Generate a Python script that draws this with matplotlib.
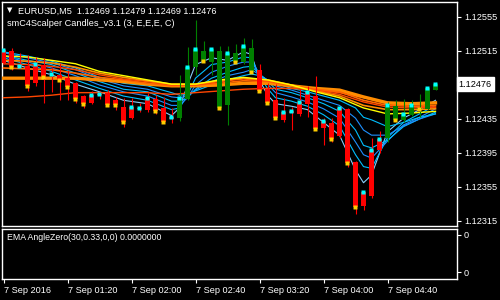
import matplotlib
matplotlib.use("Agg")
import matplotlib.pyplot as plt
import numpy as np

plt.rcParams["font.family"] = ["Liberation Sans", "DejaVu Sans"]

# EURUSD M5 candles (custom scalper candles as shown on the chart)
opens = [1.12516, 1.12515, 1.12497, 1.12497, 1.12500, 1.12499, 1.12488, 1.12487, 1.12483, 1.12477,
         1.12462, 1.12463, 1.12464, 1.12466, 1.12457, 1.12449, 1.12449, 1.12448, 1.12460, 1.12458,
         1.12448, 1.12437, 1.12436, 1.12458, 1.12496, 1.12503, 1.12502, 1.12448, 1.12451, 1.12502,
         1.12502, 1.12490, 1.12493, 1.12470, 1.12457, 1.12443, 1.12444, 1.12455, 1.12467, 1.12462,
         1.12433, 1.12430, 1.12448, 1.12447, 1.12384, 1.12349, 1.12399, 1.12411, 1.12413, 1.12434,
         1.12434, 1.12440, 1.12447, 1.12447, 1.12469]
highs = [1.12519, 1.12519, 1.12513, 1.12510, 1.12508, 1.12507, 1.12496, 1.12501, 1.12493, 1.12479,
         1.12463, 1.12468, 1.12468, 1.12469, 1.12461, 1.12460, 1.12460, 1.12454, 1.12466, 1.12463,
         1.12461, 1.12448, 1.12487, 1.12520, 1.12551, 1.12527, 1.12519, 1.12521, 1.12521, 1.12523,
         1.12530, 1.12529, 1.12500, 1.12477, 1.12476, 1.12460, 1.12449, 1.12470, 1.12474, 1.12486,
         1.12436, 1.12436, 1.12449, 1.12448, 1.12386, 1.12350, 1.12413, 1.12421, 1.12455, 1.12457,
         1.12458, 1.12457, 1.12464, 1.12471, 1.12479]
lows = [1.12500, 1.12493, 1.12495, 1.12468, 1.12474, 1.12454, 1.12467, 1.12457, 1.12457, 1.12454,
        1.12448, 1.12453, 1.12458, 1.12450, 1.12446, 1.12426, 1.12435, 1.12443, 1.12443, 1.12441,
        1.12430, 1.12430, 1.12433, 1.12457, 1.12487, 1.12502, 1.12487, 1.12446, 1.12428, 1.12501,
        1.12500, 1.12489, 1.12467, 1.12453, 1.12435, 1.12431, 1.12422, 1.12439, 1.12437, 1.12422,
        1.12404, 1.12408, 1.12413, 1.12379, 1.12323, 1.12328, 1.12342, 1.12395, 1.12408, 1.12433,
        1.12431, 1.12439, 1.12437, 1.12446, 1.12469]
closes = [1.12501, 1.12496, 1.12496, 1.12474, 1.12477, 1.12484, 1.12487, 1.12481, 1.12473, 1.12458,
          1.12453, 1.12454, 1.12463, 1.12451, 1.12451, 1.12431, 1.12436, 1.12447, 1.12446, 1.12444,
          1.12431, 1.12435, 1.12460, 1.12496, 1.12517, 1.12515, 1.12517, 1.12515, 1.12513, 1.12513,
          1.12521, 1.12519, 1.12468, 1.12454, 1.12436, 1.12434, 1.12442, 1.12441, 1.12453, 1.12423,
          1.12424, 1.12411, 1.12415, 1.12383, 1.12331, 1.12333, 1.12344, 1.12399, 1.12451, 1.12450,
          1.12441, 1.12451, 1.12448, 1.12471, 1.12476]
# small square on each candle: c = cyan at body top, y = yellow at body bottom
marks = list("cycycycyyyyccyyycccyyccccycycycyyyyccccycycyycccc" "ycc" "ycc")

# fast EMA ribbon (blue), sampled at these bars
fast_idx = [0, 3, 6, 9, 12, 15, 18, 21, 22, 23, 24, 26, 28, 30, 31, 32, 33, 34, 36, 38,
            40, 42, 44, 45, 46, 48, 50, 52, 54]
fast1 = [1.12504, 1.12495, 1.12487, 1.12476, 1.12467, 1.12457, 1.12453, 1.12439, 1.12448, 1.12475,
         1.12499, 1.12507, 1.12504, 1.12514, 1.12511, 1.12481, 1.12463, 1.12453, 1.12450, 1.12446,
         1.12431, 1.12416, 1.12375, 1.12360, 1.12369, 1.12420, 1.12436, 1.12446, 1.12457]
fast2 = [1.12507, 1.12499, 1.12491, 1.12481, 1.12471, 1.12462, 1.12457, 1.12446, 1.12448, 1.12463,
         1.12483, 1.12499, 1.12502, 1.12508, 1.12507, 1.12486, 1.12471, 1.12460, 1.12456, 1.12450,
         1.12440, 1.12427, 1.12393, 1.12379, 1.12377, 1.12413, 1.12431, 1.12441, 1.12451]
fast3 = [1.12509, 1.12502, 1.12495, 1.12486, 1.12475, 1.12467, 1.12462, 1.12451, 1.12451, 1.12460,
         1.12475, 1.12490, 1.12497, 1.12502, 1.12502, 1.12488, 1.12476, 1.12466, 1.12461, 1.12455,
         1.12447, 1.12436, 1.12408, 1.12393, 1.12389, 1.12409, 1.12428, 1.12437, 1.12447]
fast4 = [1.12510, 1.12504, 1.12499, 1.12489, 1.12479, 1.12470, 1.12467, 1.12456, 1.12456, 1.12460,
         1.12470, 1.12483, 1.12490, 1.12496, 1.12497, 1.12488, 1.12480, 1.12470, 1.12466, 1.12460,
         1.12453, 1.12444, 1.12422, 1.12404, 1.12401, 1.12410, 1.12426, 1.12435, 1.12443]
fast5 = [1.12513, 1.12507, 1.12501, 1.12493, 1.12482, 1.12474, 1.12470, 1.12461, 1.12460, 1.12462,
         1.12469, 1.12479, 1.12486, 1.12490, 1.12493, 1.12487, 1.12481, 1.12474, 1.12469, 1.12463,
         1.12457, 1.12451, 1.12436, 1.12422, 1.12416, 1.12416, 1.12427, 1.12435, 1.12441]
fast6 = [1.12514, 1.12509, 1.12503, 1.12495, 1.12484, 1.12477, 1.12474, 1.12466, 1.12463, 1.12464,
         1.12468, 1.12475, 1.12481, 1.12486, 1.12488, 1.12486, 1.12481, 1.12477, 1.12471, 1.12467,
         1.12462, 1.12457, 1.12448, 1.12437, 1.12434, 1.12426, 1.12431, 1.12437, 1.12441]

# slow ribbon (yellow/orange) and long MA
slow_idx = [0, 3, 6, 9, 12, 15, 18, 21, 24, 27, 30, 33, 36, 39, 42, 45, 48, 51, 54]
slow1 = [1.12509, 1.12508, 1.12504, 1.12500, 1.12491, 1.12486, 1.12481, 1.12476, 1.12476, 1.12481,
         1.12484, 1.12481, 1.12475, 1.12467, 1.12460, 1.12448, 1.12441, 1.12442, 1.12444]
slow2 = [1.12504, 1.12503, 1.12501, 1.12496, 1.12489, 1.12484, 1.12480, 1.12476, 1.12476, 1.12480,
         1.12483, 1.12481, 1.12475, 1.12468, 1.12462, 1.12451, 1.12446, 1.12446, 1.12447]
slow3 = [1.12500, 1.12499, 1.12497, 1.12493, 1.12487, 1.12482, 1.12479, 1.12475, 1.12475, 1.12479,
         1.12482, 1.12480, 1.12475, 1.12469, 1.12464, 1.12455, 1.12449, 1.12448, 1.12449]
slow4 = [1.12495, 1.12494, 1.12493, 1.12489, 1.12484, 1.12481, 1.12477, 1.12474, 1.12475, 1.12477,
         1.12480, 1.12479, 1.12474, 1.12470, 1.12467, 1.12457, 1.12451, 1.12450, 1.12451]
slow5 = [1.12483, 1.12483, 1.12483, 1.12483, 1.12481, 1.12479, 1.12476, 1.12474, 1.12474, 1.12475,
         1.12477, 1.12477, 1.12474, 1.12471, 1.12469, 1.12461, 1.12454, 1.12453, 1.12454]
long_ma = [1.12460, 1.12461, 1.12463, 1.12466, 1.12466, 1.12466, 1.12466, 1.12464, 1.12466, 1.12468,
           1.12470, 1.12471, 1.12471, 1.12469, 1.12466, 1.12460, 1.12453, 1.12450, 1.12449]

price_ticks = [1.12555, 1.12515, 1.12435, 1.12395, 1.12355, 1.12315]
time_idx = [0, 8, 16, 24, 32, 40, 48]
time_labels = ["7 Sep 2016", "7 Sep 01:20", "7 Sep 02:00", "7 Sep 02:40",
               "7 Sep 03:20", "7 Sep 04:00", "7 Sep 04:40"]
header = "EURUSD,M5  1.12469 1.12479 1.12469 1.12476"
ind_name = "smC4Scalper Candles_v3.1 (3, E,E,E, C)"
sub_name = "EMA AngleZero(30,0.33,0,0) 0.0000000"

W, H = 500, 300
FS = 6.6

fig = plt.figure(figsize=(W / 100, H / 100), dpi=100, facecolor="black")
ax = fig.add_axes([2 / W, 1 - 226 / H, 455 / W, 224 / H], facecolor="black")
ax2 = fig.add_axes([2 / W, 1 - 279 / H, 455 / W, 50 / H], facecolor="black")

o = np.array(opens); c = np.array(closes)
x = np.arange(len(o))
up = c >= o
col = np.where(up, "#008000", "#FF0000")
lo = np.minimum(o, c)
hgt = np.maximum(np.abs(c - o), 0.000012)

# ribbons
fast_cols = ["#87CEFA", "#00BFFF", "#1E90FF", "#00BFFF", "#1E90FF", "#00BFFF"]
for vals, cc in zip([fast1, fast2, fast3, fast4, fast5, fast6], fast_cols):
    ax.plot(fast_idx, vals, color=cc, lw=0.8, zorder=2)
ax.plot(slow_idx, long_ma, color="#FF4500", lw=1.0, zorder=3)
ax.plot(slow_idx, slow5, color="#FF8C00", lw=2.4, zorder=3)
ax.plot(slow_idx, slow4, color="#FF6600", lw=1.2, zorder=3)
ax.plot(slow_idx, slow3, color="#FF4500", lw=1.0, zorder=3)
ax.plot(slow_idx, slow2, color="#FF8C00", lw=1.2, zorder=3)
ax.plot(slow_idx, slow1, color="#FFFF00", lw=1.0, zorder=3)

# candles
ax.vlines(x, lows, highs, colors=col, lw=0.8, zorder=4)
ax.bar(x, hgt, bottom=lo, width=0.62, color=col, linewidth=0, zorder=5)
mk = np.array(marks[:len(o)])
top = np.maximum(o, c)
cy = mk == "c"
ax.plot(x[cy] - 0.12, top[cy], "s", ms=2.3, mfc="#00FFFF", mec="none", zorder=6)
ax.plot(x[~cy] - 0.12, lo[~cy], "s", ms=2.3, mfc="#FFCC00", mec="none", zorder=6)

ax.set_xlim(-0.1875, 56.6875)
ax.set_ylim(1.12575 - 226 * 1.1765e-5, 1.12575 - 2 * 1.1765e-5)
ax.yaxis.tick_right()
ax.set_yticks(price_ticks)
ax.set_yticklabels([f"{t:.5f}" for t in price_ticks])
ax.tick_params(axis="y", colors="white", length=3, width=0.8, labelsize=FS, pad=2)
ax.tick_params(axis="x", bottom=False, labelbottom=False)
for s in ax.spines.values():
    s.set_color("white"); s.set_linewidth(1)

# current price box
ax.text(1.004, closes[-1], f"{closes[-1]:.5f}", transform=ax.get_yaxis_transform(),
        va="center", ha="left", fontsize=FS, color="black",
        bbox=dict(boxstyle="square,pad=0.25", fc="white", ec="white"), clip_on=False)

# sub window
ax2.set_xlim(-0.1875, 56.6875)
ax2.set_ylim(0, 1)
ax2.yaxis.tick_right()
ax2.set_yticks([0.14, 0.88])
ax2.set_yticklabels(["0", "0"])
ax2.tick_params(axis="y", colors="white", length=3, width=0.8, labelsize=FS, pad=2)
ax2.set_xticks(time_idx)
ax2.set_xticklabels(time_labels, ha="left")
ax2.tick_params(axis="x", colors="white", length=3, width=0.8, labelsize=FS, pad=2)
for s in ax2.spines.values():
    s.set_color("white"); s.set_linewidth(1)

fig.text(7 / W, 1 - 10.5 / H, "\u25BC", color="white", fontsize=5, va="center", ha="left",
         family=["DejaVu Sans"])
fig.text(18 / W, 1 - 11 / H, header, color="white", fontsize=FS, va="center", ha="left")
fig.text(7 / W, 1 - 24 / H, ind_name, color="white", fontsize=FS, va="center", ha="left")
fig.text(7 / W, 1 - 238 / H, sub_name, color="white", fontsize=FS - 0.3, va="center", ha="left")

fig.savefig("out.png", dpi=100, facecolor="black")
